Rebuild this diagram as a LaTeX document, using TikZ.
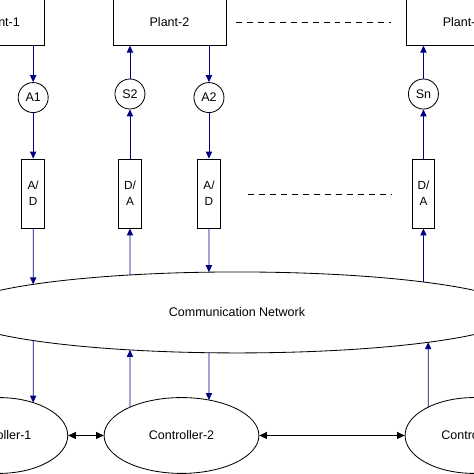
\documentclass[tikz,border=0pt]{standalone}
\usepackage{fontspec}
\setmainfont{Liberation Sans}
\usetikzlibrary{arrows.meta, positioning, shapes.geometric, intersections}
\definecolor{linkblue}{RGB}{0,0,128}
\tikzset{
  plantbox/.style={draw, line width=0.6pt, minimum width=2.86cm, minimum height=1.17cm},
  convbox/.style={draw, line width=0.6pt, minimum width=0.58cm, minimum height=1.75cm,
    inner sep=0pt, align=center, font=\fontsize{8.5}{11.5}\selectfont},
  tap/.style={draw, line width=0.6pt, circle, minimum size=0.76cm, inner sep=0pt},
  ctrl/.style={draw, line width=0.6pt, ellipse, minimum width=3.92cm, minimum height=1.92cm},
  link/.style={linkblue, line width=0.6pt, -{Triangle[width=4.5pt,length=5pt]}},
  peer/.style={black, line width=0.6pt, {Triangle[width=5pt,length=5.5pt]}-{Triangle[width=5pt,length=5.5pt]}}
}

\begin{document}
\begin{tikzpicture}[font=\fontsize{9}{11}\selectfont]
    \useasboundingbox (0,0) rectangle (12,12);
    \clip (0,0) rectangle (12,12);

    % Plants
    \node[plantbox, minimum width=2.23cm] (plant1) at (0,11.44) {Plant-1};
    \node[plantbox] (plant2) at (4.29,11.44) {Plant-2};
    \node[plantbox] (plantn) at (11.71,11.44) {Plant-n};
    \draw[dash pattern=on 4.3pt off 3.6pt, line width=0.6pt] (5.97,11.42) -- (9.90,11.42);

    % Actuators and sensors
    \node[tap] (a1) at (0.84,9.53) {A1};
    \node[tap] (s2) at (3.29,9.62) {S2};
    \node[tap] (a2) at (5.29,9.53) {A2};
    \node[tap] (sn) at (10.72,9.62) {Sn};

    % Converters
    \node[convbox] (ad1) at (0.84,7.10) {A/\\D};
    \node[convbox] (da2) at (3.29,7.10) {D/\\A};
    \node[convbox] (ad3) at (5.29,7.10) {A/\\D};
    \node[convbox] (dan) at (10.72,7.10) {D/\\A};
    \draw[dash pattern=on 4.3pt off 3.6pt, line width=0.6pt] (6.28,7.09) -- (9.90,7.09);

    % Network and controllers
    \node[draw, line width=0.6pt, ellipse, minimum width=14.33cm, minimum height=2.05cm,
      name path=net] (net) at (6.0,4.09) {Communication Network};
    \node[ctrl, minimum width=3.49cm, name path=c1] (c1) at (-0.03,0.975) {Controller-1};
    \node[ctrl, name path=c2] (c2) at (4.595,0.975) {Controller-2};
    \node[ctrl, minimum width=3.49cm, name path=cn] (cn) at (12.0,0.975) {Controller-n};

    % Where the vertical links meet the ellipses
    \path[name path=g1] (0.84,8) -- (0.84,-1);
    \path[name path=g2] (3.29,8) -- (3.29,-1);
    \path[name path=g3] (5.29,8) -- (5.29,-1);
    \path[name path=g4] (10.72,8) -- (10.72,-1);
    \path[name path=g5] (10.84,8) -- (10.84,-1);
    \path[name intersections={of=net and g1, sort by=g1, name=m1}];
    \path[name intersections={of=net and g2, sort by=g2, name=m2}];
    \path[name intersections={of=net and g3, sort by=g3, name=m3}];
    \path[name intersections={of=net and g4, sort by=g4, name=m4}];
    \path[name intersections={of=net and g5, sort by=g5, name=m5}];
    \path[name intersections={of=c1 and g1, sort by=g1, name=k1}];
    \path[name intersections={of=c2 and g2, sort by=g2, name=k2}];
    \path[name intersections={of=c2 and g3, sort by=g3, name=k3}];
    \path[name intersections={of=cn and g5, sort by=g5, name=k5}];

    % Plant side links
    \draw[link] (a1 |- plant1.south) -- (a1);
    \draw[link] (a1) -- (ad1);
    \draw[link] (ad1) -- (m1-1);
    \draw[link] (s2) -- (s2 |- plant2.south);
    \draw[link] (da2) -- (s2);
    \draw[link] (m2-1) -- (da2);
    \draw[link] (a2 |- plant2.south) -- (a2);
    \draw[link] (a2) -- (ad3);
    \draw[link] (ad3) -- (m3-1);
    \draw[link] (sn) -- (sn |- plantn.south);
    \draw[link] (dan) -- (sn);
    \draw[link] (m4-1) -- (dan);

    % Controller side links
    \draw[link] (m1-2) -- (k1-1);
    \draw[link] (k2-1) -- (m2-2);
    \draw[link] (m3-2) -- (k3-1);
    \draw[link] (k5-1) -- (m5-2);
    \draw[peer] (c1) -- (c2);
    \draw[peer] (c2) -- (cn);
\end{tikzpicture}
\end{document}
